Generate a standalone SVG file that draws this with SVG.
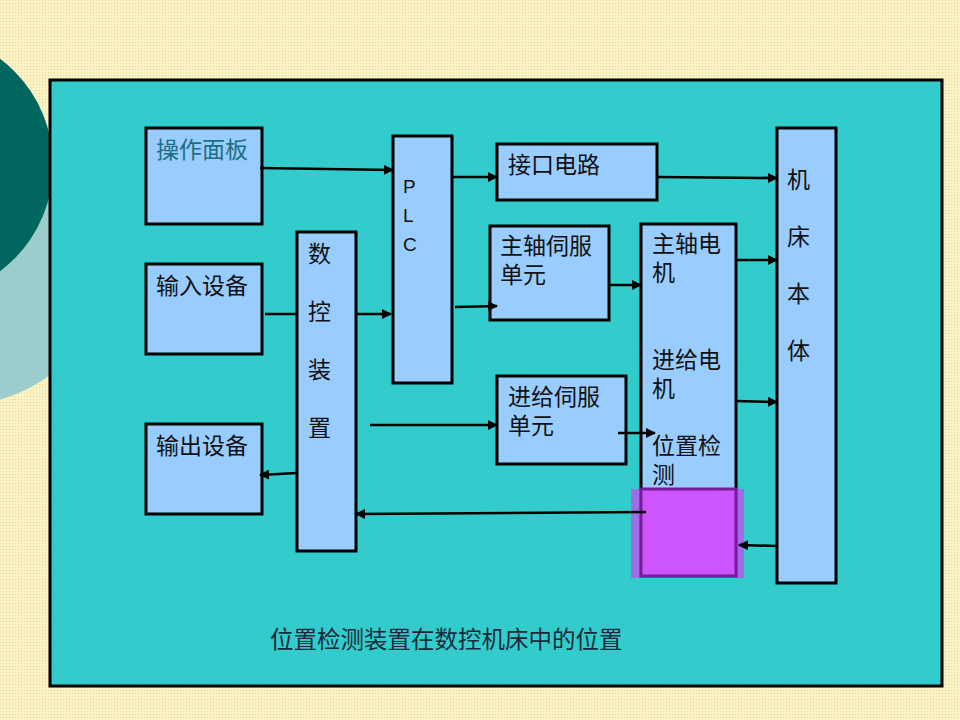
<svg xmlns="http://www.w3.org/2000/svg" width="960" height="720" viewBox="0 0 960 720">
<defs>
<pattern id="dots" width="3" height="3" patternUnits="userSpaceOnUse"><rect width="3" height="3" fill="#fbf3c4"/><rect width="1" height="1" fill="#e0d7a0"/></pattern>
<marker id="ah" viewBox="0 0 10 10" refX="9" refY="5" markerWidth="4" markerHeight="4" orient="auto"><path d="M0,0 L10,5 L0,10 z" fill="#000"/></marker>
</defs>
<style>
.b{fill:#99ccff;stroke:#000;stroke-width:3}
.t{font-family:"Liberation Sans","Noto Sans CJK SC",sans-serif;font-size:23px;fill:#111}
.c line{stroke:#000;stroke-width:2.5;marker-end:url(#ah)}
</style>
<rect width="960" height="720" fill="url(#dots)"/>
<circle cx="-40" cy="255" r="150" fill="#9ccccc"/>
<circle cx="-80" cy="165" r="133" fill="#00665f"/>
<rect x="50" y="80" width="892" height="606" fill="#33cccc" stroke="#000" stroke-width="3"/>
<g id="czmb"><rect class="b" x="146" y="128" width="116" height="96"/><text class="t" x="156" y="158" style="fill:#1a6f80">操作面板</text></g>
<g id="srsb"><rect class="b" x="146" y="264" width="116" height="90"/><text class="t" x="156" y="294">输入设备</text></g>
<g id="scsb"><rect class="b" x="146" y="424" width="116" height="90"/><text class="t" x="156" y="454">输出设备</text></g>
<g id="skzz"><rect class="b" x="297" y="232" width="59" height="319"/><text class="t" x="308" y="262">数</text><text class="t" x="308" y="320">控</text><text class="t" x="308" y="378">装</text><text class="t" x="308" y="436">置</text></g>
<g id="plc"><rect class="b" x="393" y="136" width="59" height="247"/><text class="t" x="403" y="193" style="font-size:19px">P</text><text class="t" x="403" y="222" style="font-size:19px">L</text><text class="t" x="403" y="251" style="font-size:19px">C</text></g>
<g id="jkdl"><rect class="b" x="497" y="144" width="160" height="56"/><text class="t" x="508" y="173">接口电路</text></g>
<g id="zzsf"><rect class="b" x="490" y="226" width="119" height="94"/><text class="t" x="500" y="254">主轴伺服</text><text class="t" x="500" y="283">单元</text></g>
<g id="jjsf"><rect class="b" x="497" y="376" width="129" height="88"/><text class="t" x="508" y="405">进给伺服</text><text class="t" x="508" y="434">单元</text></g>
<g id="dj"><rect class="b" x="641" y="224" width="95" height="352"/><text class="t" x="652" y="252">主轴电</text><text class="t" x="652" y="281">机</text><text class="t" x="652" y="368">进给电</text><text class="t" x="652" y="397">机</text><text class="t" x="652" y="454">位置检</text><text class="t" x="652" y="483">测</text></g>
<g id="jcbt"><rect class="b" x="777" y="128" width="59" height="455"/><text class="t" x="787" y="188">机</text><text class="t" x="787" y="245">床</text><text class="t" x="787" y="302">本</text><text class="t" x="787" y="359">体</text></g>
<g id="hl"><rect x="631" y="489" width="113" height="89" fill="#bb55ee" opacity="0.8"/><rect x="641" y="489" width="95" height="87" fill="#cc55ff" stroke="#7a1a9a" stroke-width="3"/></g>
<g class="c">
<line x1="260" y1="168" x2="393" y2="170"/>
<line x1="265" y1="314" x2="297" y2="314" style="marker-end:none"/>
<line x1="356" y1="314" x2="391" y2="314"/>
<line x1="455" y1="307" x2="497" y2="306"/>
<line x1="452" y1="177" x2="497" y2="177"/>
<line x1="657" y1="177" x2="777" y2="178"/>
<line x1="609" y1="285" x2="641" y2="285"/>
<line x1="736" y1="260" x2="777" y2="260"/>
<line x1="736" y1="401" x2="777" y2="402"/>
<line x1="370" y1="425" x2="497" y2="425"/>
<line x1="618" y1="433" x2="655" y2="433"/>
<line x1="297" y1="473" x2="260" y2="475"/>
<line x1="646" y1="512" x2="356" y2="514"/>
<line x1="777" y1="546" x2="739" y2="545"/>
</g>
<text x="270" y="648" style="font-family:'Liberation Sans','Noto Sans CJK SC',sans-serif;font-size:23.5px;fill:#1a2a3a">位置检测装置在数控机床中的位置</text>
</svg>
